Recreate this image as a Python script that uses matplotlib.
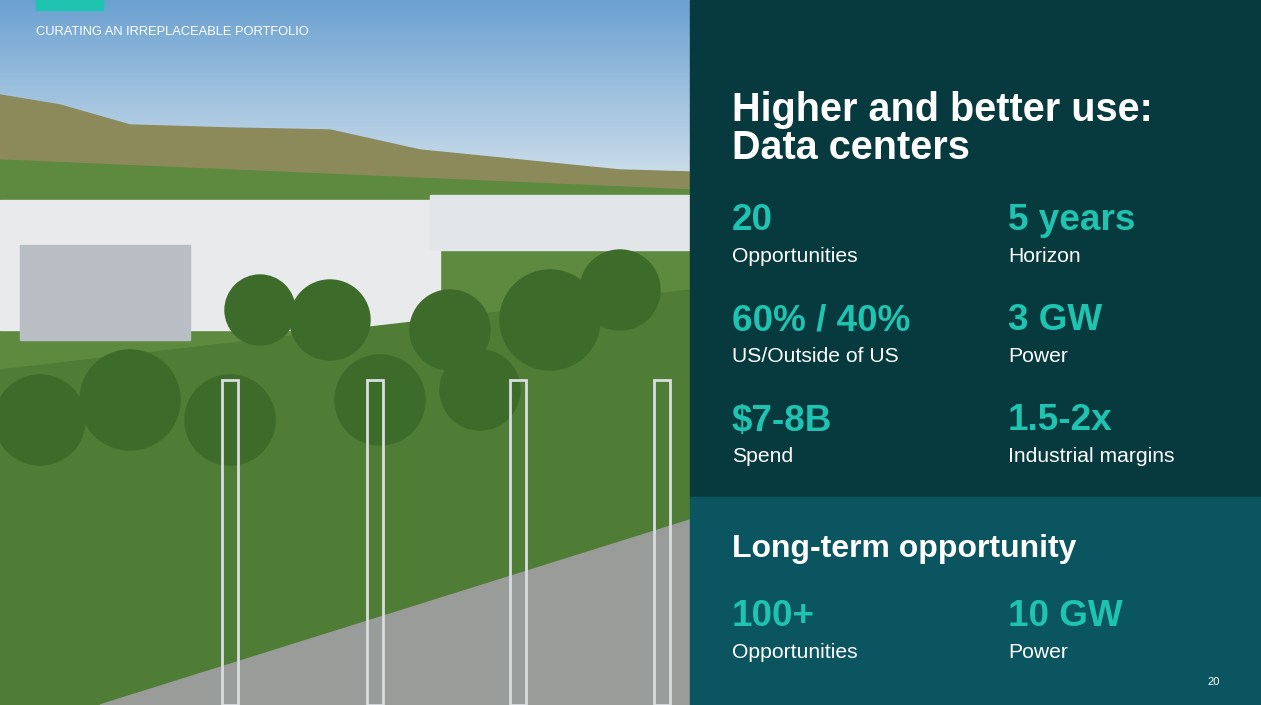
import matplotlib
matplotlib.use("Agg")
import matplotlib.pyplot as plt
import numpy as np
from matplotlib.patches import Rectangle, Polygon

W, H = 1261, 705
title = "Higher and better use:\nData centers"
metric_values = ["20", "5 years", "60% / 40%", "3 GW", "$7-8B", "1.5-2x"]
metric_labels = ["Opportunities", "Horizon", "US/Outside of US", "Power", "Spend", "Industrial margins"]
lt_title = "Long-term opportunity"
lt_values = ["100+", "10 GW"]
lt_labels = ["Opportunities", "Power"]
header = "CURATING AN IRREPLACEABLE PORTFOLIO"
page = "20"

accent = "#1fc4b0"
fig = plt.figure(figsize=(W/100, H/100), dpi=100)
ax = fig.add_axes([0, 0, 1, 1])
ax.set_xlim(0, W); ax.set_ylim(H, 0); ax.axis("off")

# photo approximation
sky = np.linspace(0, 1, 200)[:, None]
c0 = np.array([0.42, 0.63, 0.82]); c1 = np.array([0.85, 0.90, 0.93])
img = c0 + (c1 - c0) * sky[..., None]
ax.imshow(np.repeat(img, 2, axis=1), extent=(0, 690, 200, 0), aspect="auto", zorder=0)
ax.add_patch(Polygon([(0, 95), (60, 105), (130, 125), (230, 128), (330, 130), (420, 150), (520, 160), (620, 170), (690, 172), (690, 260), (0, 260)], color="#8c8a5a", zorder=1))
ax.add_patch(Polygon([(0, 160), (690, 190), (690, 705), (0, 705)], color="#5d8a3e", zorder=1))
ax.add_patch(Rectangle((0, 200), 440, 130, color="#e8eaec", zorder=2))
ax.add_patch(Rectangle((430, 195), 260, 55, color="#e3e6e8", zorder=2))
ax.add_patch(Rectangle((20, 245), 170, 95, color="#b9bec4", zorder=3))
ax.add_patch(Polygon([(0, 370), (690, 290), (690, 705), (0, 705)], color="#4f7d36", zorder=3))
for x, y, r in [(40, 420, 45), (130, 400, 50), (230, 420, 45), (330, 320, 40), (380, 400, 45), (450, 330, 40), (550, 320, 50), (620, 290, 40), (260, 310, 35), (480, 390, 40)]:
    ax.add_patch(plt.Circle((x, y), r, color="#3d6b2a", zorder=4))
ax.add_patch(Polygon([(100, 705), (690, 520), (690, 705)], color="#9a9c9a", zorder=5))
for x in [230, 375, 518, 662]:
    ax.add_patch(Rectangle((x - 8, 380), 16, 325, fill=False, ec="#d8dde0", lw=2, zorder=6))

# panels
ax.add_patch(Rectangle((690, 0), W - 690, 497, color="#063a3f", zorder=7))
ax.add_patch(Rectangle((690, 497), W - 690, H - 497, color="#0b5560", zorder=7))
ax.add_patch(Rectangle((36, 0), 67, 10, color=accent, zorder=8))
ax.text(36, 32, header, color="white", fontsize=9.3, va="center", zorder=9, family="Liberation Sans")

kw = dict(family="Liberation Sans", zorder=9, va="center")
ax.text(732, 129, title, color="white", fontsize=28.5, fontweight="bold", linespacing=1.0, **kw)
cols = [732, 1008]; rows = [221, 321, 421]
for i, (v, l) in enumerate(zip(metric_values, metric_labels)):
    x = cols[i % 2]; y = rows[i // 2]
    ax.text(x, y, v, color=accent, fontsize=26.6, fontweight="bold", **kw)
    ax.text(x, y + 35, l, color="white", fontsize=15.2, **kw)
ax.text(732, 549, lt_title, color="white", fontsize=23, fontweight="bold", **kw)
for i, (v, l) in enumerate(zip(lt_values, lt_labels)):
    ax.text(cols[i], 617, v, color=accent, fontsize=26.6, fontweight="bold", **kw)
    ax.text(cols[i], 652, l, color="white", fontsize=15.2, **kw)
ax.text(1220, 682, page, color="white", fontsize=8, ha="right", **kw)

fig.savefig("out.png", dpi=100)
